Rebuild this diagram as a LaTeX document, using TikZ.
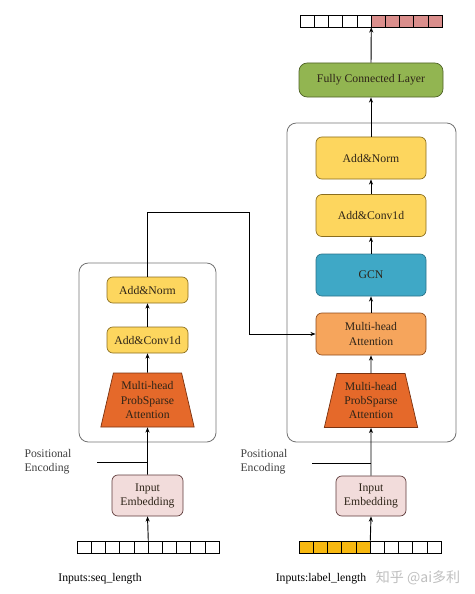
\documentclass[tikz,border=0pt]{standalone}
\usepackage{fontspec}
\setmainfont{Liberation Serif}
\newfontfamily\cjkfont{Noto Sans CJK SC}
\usetikzlibrary{shapes.geometric,arrows.meta,positioning,calc}

\definecolor{normfill}{HTML}{FDD65E}
\definecolor{normedge}{HTML}{8A6D1E}
\definecolor{fcfill}{HTML}{92B551}
\definecolor{fcedge}{HTML}{4F6228}
\definecolor{gcnfill}{HTML}{3FA8C6}
\definecolor{gcnedge}{HTML}{2A7288}
\definecolor{mhafill}{HTML}{F6A55C}
\definecolor{mhaedge}{HTML}{8E4A1A}
\definecolor{trapfill}{HTML}{E5692A}
\definecolor{trapedge}{HTML}{7A3210}
\definecolor{embfill}{HTML}{F2DCDB}
\definecolor{embedge}{HTML}{5E3A3A}
\definecolor{outcell}{HTML}{DA8E8C}
\definecolor{incell}{HTML}{F7B810}
\definecolor{txt}{HTML}{2E2418}

\tikzset{
  block/.style={draw=#1, rounded corners=5pt, align=center, line width=0.6pt, text=txt, inner sep=2pt},
  addbox/.style={block=normedge, fill=normfill},
  trap/.style={trapezium, trapezium angle=72, trapezium stretches body, draw=trapedge, fill=trapfill,
    line width=0.6pt, align=center, text=txt, minimum width=2.8cm, minimum height=1.62cm, inner sep=1pt},
  encbox/.style={draw=black!55, rounded corners=8pt, line width=0.7pt},
  cell/.style={draw, minimum width=0.426cm, minimum height=0.36cm, inner sep=0pt, line width=0.5pt},
  arr/.style={-{Stealth[length=4.5pt,width=3.5pt]}, line width=0.8pt},
  lbl/.style={align=left, text=black!75}
}

\begin{document}
\begin{tikzpicture}[x=0.03cm,y=-0.03cm]
\useasboundingbox (0,0) rectangle (474,594);

% Encoder
\node[encbox, minimum width=4.11cm, minimum height=5.37cm] (lenc) at (147.5,352.5) {};
\node[addbox, minimum width=2.43cm, minimum height=0.78cm] (lnorm) at (147.5,290) {Add\&Norm};
\node[addbox, minimum width=2.43cm, minimum height=0.78cm] (lconv) at (147.5,340) {Add\&Conv1d};
\node[trap] (ltrap) at (147.5,400) {Multi-head\\ProbSparse\\Attention};
\node[block=embedge, fill=embfill, minimum width=2.13cm, minimum height=1.23cm] (lemb) at (147.5,495.5) {Input\\Embedding};

% Encoder inputs
\foreach \i in {0,...,9}
  \node[cell] (lc\i) at (84.1+14.2*\i,547) {};
\node[lbl] (lpostext) at (48,462) {Positional\\Encoding};
\coordinate (lpos) at (97,462);
\node (lin) at (100,579) {Inputs:seq\_length};

% Decoder
\node[encbox, minimum width=5.07cm, minimum height=9.57cm] (rdec) at (371.5,282.5) {};
\node[addbox, minimum width=3.3cm, minimum height=1.26cm] (rnorm) at (371,158) {Add\&Norm};
\node[addbox, minimum width=3.3cm, minimum height=1.26cm] (rconv) at (371,215.5) {Add\&Conv1d};
\node[block=gcnedge, fill=gcnfill, minimum width=3.3cm, minimum height=1.26cm] (gcn) at (371,275) {GCN};
\node[block=mhaedge, fill=mhafill, minimum width=3.3cm, minimum height=1.26cm] (mha) at (371,334) {Multi-head\\Attention};
\node[trap] (rtrap) at (371,400.5) {Multi-head\\ProbSparse\\Attention};
\node[block=embedge, fill=embfill, minimum width=2.1cm, minimum height=1.2cm] (remb) at (371,496) {Input\\Embedding};

% Decoder inputs
\foreach \i in {0,...,9}
  \node[cell] (rc\i) at (306.1+14.2*\i,547) {};
\foreach \i in {0,...,4}
  \node[cell, fill=incell] at (rc\i) {};
\node[lbl] (rpostext) at (264,462) {Positional\\Encoding};
\coordinate (rpos) at (312,463);
\node (rin) at (321,579) {Inputs:label\_length};

% Output
\node[block=fcedge, fill=fcfill, rounded corners=7pt, minimum width=4.32cm, minimum height=1.02cm] (fc) at (371,80) {Fully Connected Layer};
\foreach \i in {0,...,9}
  \node[cell] (tc\i) at (307.1+14.2*\i,21) {};
\foreach \i in {5,...,9}
  \node[cell, fill=outcell] at (tc\i) {};

% Encoder flow
\draw[arr] (lc4.north east) -- (lemb.south);
\draw[line width=0.8pt] (lpos) -- (lemb.north |- lpos);
\draw[arr] (lemb.north) -- (ltrap.south);
\draw[arr] (ltrap.north) -- (lconv.south);
\draw[arr] (lconv.north) -- (lnorm.south);
\coordinate (lturn) at (249,212);
\draw[arr] (lnorm.north) |- (lturn) |- (mha.west);

% Decoder flow
\draw[arr] (rc4.north east) -- (remb.south);
\draw[line width=0.8pt] (rpos) -- (remb.north |- rpos);
\draw[arr] (remb.north) -- (rtrap.south);
\draw[arr] (rtrap.north) -- (mha.south);
\draw[arr] (mha.north) -- (gcn.south);
\draw[arr] (gcn.north) -- (rconv.south);
\draw[arr] (rconv.north) -- (rnorm.south);
\draw[arr] (rnorm.north) -- (fc.south);
\draw[arr] (fc.north) -- (tc4.south east);

% Watermark
\node[text=black!25, font=\cjkfont\large] (mark) at (418,578) {知乎 @ai多利};

\end{tikzpicture}
\end{document}
